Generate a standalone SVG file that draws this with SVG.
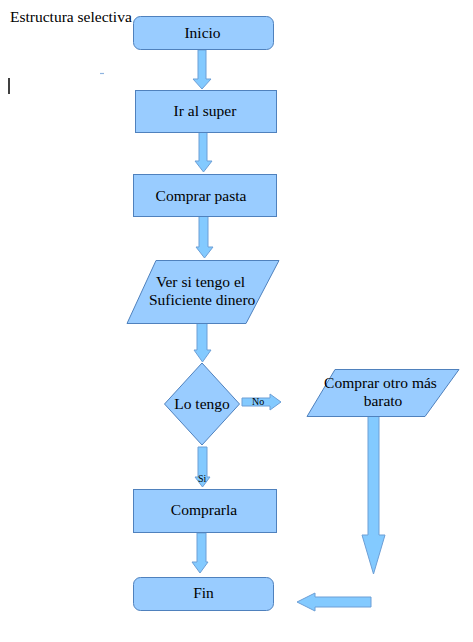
<svg xmlns="http://www.w3.org/2000/svg" width="473" height="642" viewBox="0 0 473 642">
<style>
.shape{fill:#99ccff;stroke:#4f81bd;stroke-width:1}
.arr{fill:#83caff;stroke:#6d9fd6;stroke-width:1}
.t{font-family:"Liberation Serif",serif;font-size:15.5px;fill:#000}
.s{font-family:"Liberation Serif",serif;font-size:10px;fill:#000}
</style>
<rect width="473" height="642" fill="#ffffff"/>
<text class="t" x="10" y="22">Estructura selectiva</text>
<line x1="9" y1="78" x2="9" y2="94" stroke="#000" stroke-width="1.5"/>
<line x1="100" y1="73.5" x2="104" y2="73.5" stroke="#8fb4e0" stroke-width="1.2"/>
<g id="connectors">
<path class="arr" d="M198,50 H206 V79 H211 L202,89 L193,79 H198 Z"/>
<path class="arr" d="M199,132 H207 V161 H212 L203.5,172 L195,161 H199 Z"/>
<path class="arr" d="M199,216 H208 V247 H213 L204.5,258 L196,247 H199 Z"/>
<path class="arr" d="M197,323 H207 V350 H211 L202.5,362 L194,350 H197 Z"/>
<path class="arr" d="M242,398 H270 V394 L281,402 L270,410 V406 H242 Z"/>
<path class="arr" d="M198,447 H207 V477 H210 L202.5,487 L195,477 H198 Z"/>
<path class="arr" d="M368,416 H379 V535 H385 L373.5,574 L362,535 H368 Z"/>
<path class="arr" d="M197,533 H206 V562 H208 L200,573 L192,562 H197 Z"/>
<path class="arr" d="M371,597 H315 V593 L297,602 L315,611 V607 H371 Z"/>
<text class="s" x="252" y="405">No</text>
<text class="s" x="198" y="482">Si</text>
</g>
<g id="inicio">
<rect class="shape" x="133.5" y="16.5" width="140" height="33" rx="7"/>
<text class="t" x="202.5" y="38" text-anchor="middle">Inicio</text>
</g>
<g id="ir-al-super">
<rect class="shape" x="135.5" y="90.5" width="141" height="42"/>
<text class="t" x="205" y="116" text-anchor="middle">Ir al super</text>
</g>
<g id="comprar-pasta">
<rect class="shape" x="133.5" y="174.5" width="143" height="42"/>
<text class="t" x="201" y="201" text-anchor="middle">Comprar pasta</text>
</g>
<g id="ver-si-tengo">
<polygon class="shape" points="156,260.5 279,260.5 246,323.5 127,323.5"/>
<text class="t" x="156" y="287">Ver si tengo el</text>
<text class="t" x="149" y="305">Suficiente dinero</text>
</g>
<g id="lo-tengo">
<polygon class="shape" points="202,363 239.5,404 202,445 164.5,404"/>
<text class="t" x="202" y="409" text-anchor="middle">Lo tengo</text>
</g>
<g id="comprar-otro">
<polygon class="shape" points="335,369.5 459,369.5 425,416.5 307,416.5"/>
<text class="t" x="380.5" y="388" text-anchor="middle">Comprar otro más</text>
<text class="t" x="383" y="406" text-anchor="middle">barato</text>
</g>
<g id="comprarla">
<rect class="shape" x="133.5" y="489.5" width="143" height="43"/>
<text class="t" x="204" y="515" text-anchor="middle">Comprarla</text>
</g>
<g id="fin">
<rect class="shape" x="133.5" y="577.5" width="140" height="33" rx="7"/>
<text class="t" x="203.5" y="598" text-anchor="middle">Fin</text>
</g>
</svg>
